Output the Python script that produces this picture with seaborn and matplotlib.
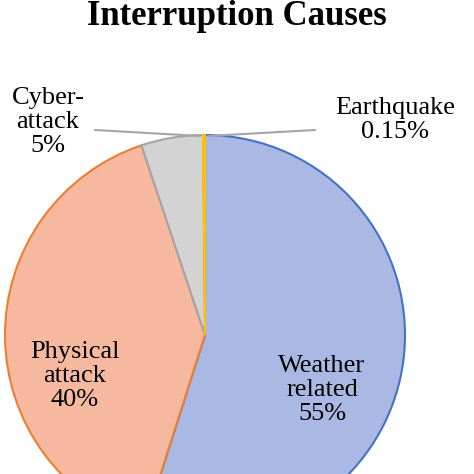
import matplotlib
matplotlib.use('Agg')
import matplotlib.pyplot as plt
import seaborn as sns

causes = ['Weather\nrelated\n55%', 'Physical\nattack\n40%', 'Cyber-\nattack\n5%', 'Earthquake\n0.15%']
shares = [55, 40, 5, 0.15]
fills = ['#a9b9e3', '#f6b9a0', '#d3d3d3', '#ffc000']
edges = ['#4472c4', '#ed7d31', '#a5a5a5', '#ffc000']

sns.set_style('white')
plt.rcParams['font.family'] = ['Liberation Serif', 'DejaVu Serif']

H = 474
fig = plt.figure(figsize=(4.74, 4.74), dpi=100)
ax = fig.add_axes([0, 0, 1, 1])
wedges, _ = ax.pie(shares, colors=fills, startangle=90, counterclock=False,
                   center=(205, H - 335), radius=200,
                   wedgeprops=dict(linewidth=1.5))
for w, e in zip(wedges, edges):
    w.set_edgecolor(e)
ax.set_xlim(0, H)
ax.set_ylim(0, H)
ax.set_aspect('equal')
ax.axis('off')

ax.text(237, H - 16, 'Interruption Causes', ha='center', va='center',
        fontsize=25, fontweight='bold', color='black')
ax.plot([95, 200], [H - 130, H - 136], color='#a5a5a5', lw=1.5)
ax.plot([208, 315], [H - 136, H - 130], color='#a5a5a5', lw=1.5)
label_pos = [(322, 390), (75, 376), (48, 122), (395, 120)]
for txt, (x, y) in zip(causes, label_pos):
    ax.text(x, H - y, txt, ha='center', va='center', fontsize=19,
            linespacing=1.1, color='black')

fig.savefig('out.png', dpi=100)
